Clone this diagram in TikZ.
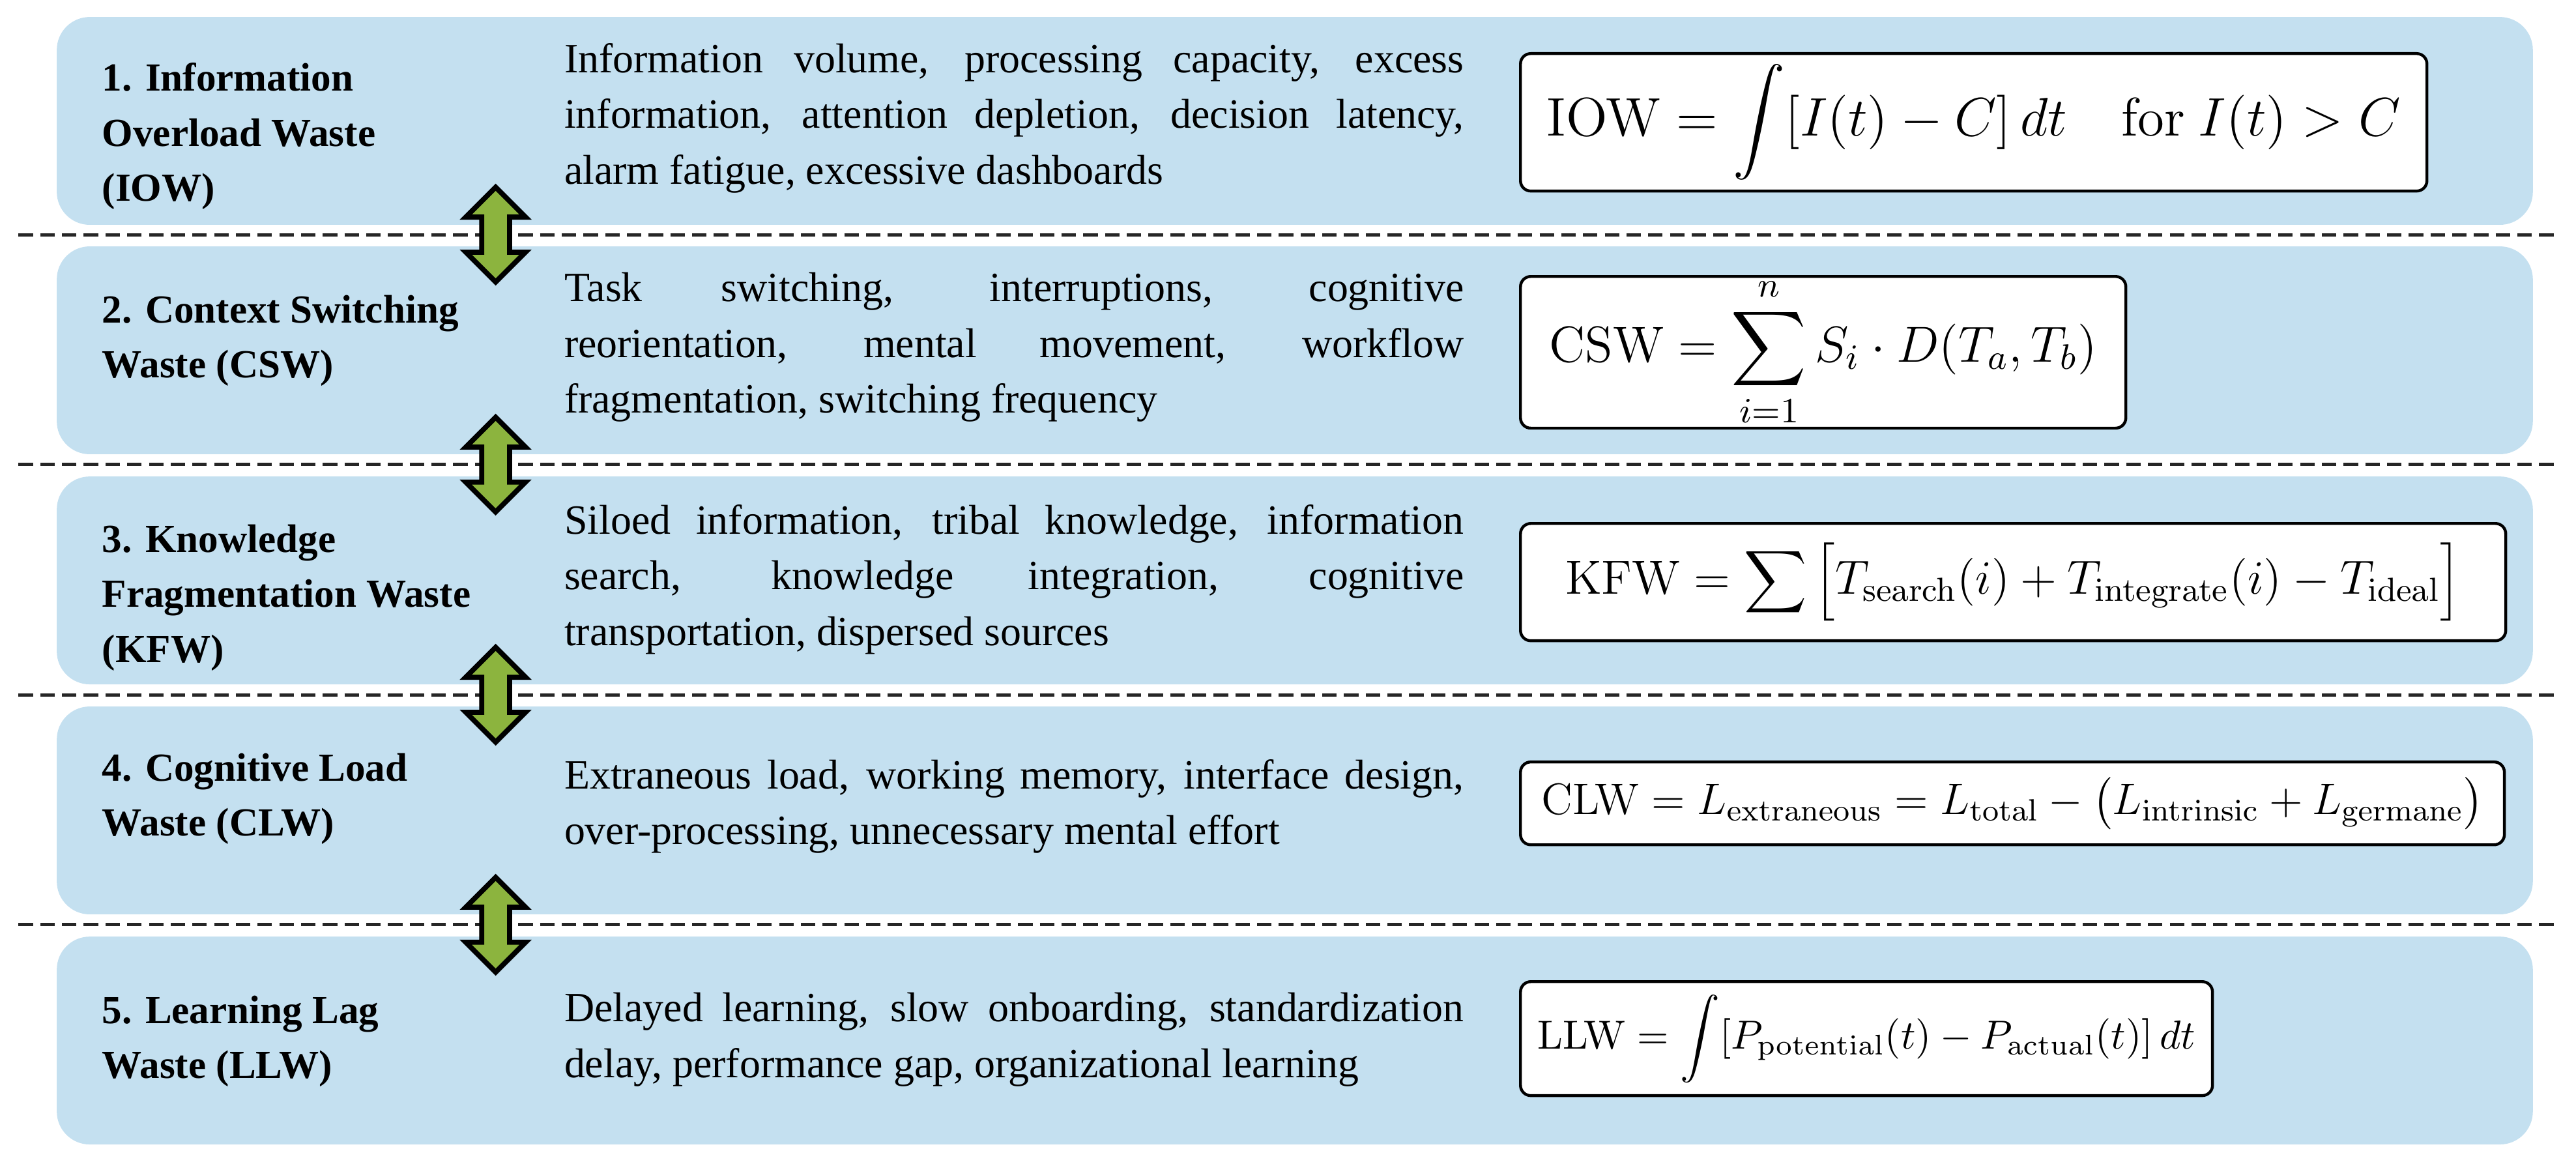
\documentclass[tikz,border=0pt]{standalone}
\usepackage{fix-cm}
\usepackage{amsmath}
\usepackage[no-math]{fontspec}
\setmainfont{Liberation Serif}
\usepackage{tikz}

\definecolor{rowblue}{RGB}{196,224,240}
\definecolor{arrowgreen}{RGB}{140,180,62}

\tikzset{
  rowbox/.style={fill=rowblue, rounded corners=0.32cm, anchor=north west,
    minimum width=24.03cm, minimum height=2.017cm, inner sep=0pt},
  rowsep/.style={dash pattern=on 4pt off 2pt, line width=0.9pt, black!85},
  rowtitle/.style={anchor=west, align=left, inner sep=0pt,
    font=\fontsize{11}{15.2}\selectfont\bfseries},
  rowtext/.style={anchor=west, text width=8.73cm, align=justify, inner sep=0pt,
    font=\fontsize{11.5}{15.4}\selectfont},
  formbox/.style={draw=black, fill=white, rounded corners=0.1cm, line width=0.8pt,
    anchor=north west, inner sep=0pt},
  updown/.style={draw=black, fill=arrowgreen, line width=1.4pt, line join=miter}
}

\begin{document}
\begin{tikzpicture}
  \useasboundingbox (0,0) rectangle (25,-11.276);
  % rows
  \foreach \y [count=\i] in {0.158,2.384,4.617,6.849,9.082}
    \node[rowbox] (row\i) at (0.544,-\y) {};
  % separators and arrows
  \foreach \y [count=\i] in {2.277,4.509,6.742,8.974} {
    \draw[rowsep] (0.18,-\y) -- (24.84,-\y);
    \coordinate (arr\i) at (4.81,-\y);
    \draw[updown] ([yshift=0.46cm]arr\i) -- ++(-0.29,-0.29) -- ++(0.155,0) -- ++(0,-0.34)
      -- ++(-0.155,0) -- ++(0.29,-0.29) -- ++(0.29,0.29) -- ++(-0.155,0) -- ++(0,0.34)
      -- ++(0.155,0) -- cycle;
  }
  % titles
  \node[rowtitle] (t1) at (0.985,-1.322) {1. Information\\Overload Waste\\(IOW)};
  \node[rowtitle] (t2) at (0.985,-3.308) {2. Context Switching\\Waste (CSW)};
  \node[rowtitle] (t3) at (0.985,-5.799) {3. Knowledge\\Fragmentation Waste\\(KFW)};
  \node[rowtitle] (t4) at (0.985,-7.754) {4. Cognitive Load\\Waste (CLW)};
  \node[rowtitle] (t5) at (0.985,-10.106) {5. Learning Lag\\Waste (LLW)};
  % descriptions
  \node[rowtext] (d1) at (5.47,-1.145) {Information volume, processing capacity, excess\linebreak information, attention depletion, decision latency,\linebreak alarm fatigue, excessive dashboards};
  \node[rowtext] (d2) at (5.47,-3.371) {Task switching, interruptions, cognitive\linebreak reorientation, mental movement, workflow\linebreak fragmentation, switching frequency};
  \node[rowtext] (d3) at (5.47,-5.622) {Siloed information, tribal knowledge, information\linebreak search, knowledge integration, cognitive\linebreak transportation, dispersed sources};
  \node[rowtext] (d4) at (5.47,-7.826) {Extraneous load, working memory, interface design,\linebreak over-processing, unnecessary mental effort};
  \node[rowtext] (d5) at (5.47,-10.090) {Delayed learning, slow onboarding, standardization\linebreak delay, performance gap, organizational learning};
  % formulas
  \node[formbox, minimum width=8.797cm, minimum height=1.334cm, font=\fontsize{15}{18}\selectfont] (f1) at (14.742,-0.506)
    {$\displaystyle \mathrm{IOW} = \int [I(t) - C]\, dt \quad \mathrm{for}\ I(t) > C$};
  \node[formbox, minimum width=5.875cm, minimum height=1.467cm, font=\fontsize{14}{17}\selectfont] (f2) at (14.742,-2.669)
    {$\displaystyle \mathrm{CSW} = \sum_{i=1}^{n} S_i \cdot D(T_a, T_b)$};
  \node[formbox, minimum width=9.562cm, minimum height=1.138cm, font=\fontsize{13.2}{16}\selectfont] (f3) at (14.742,-5.066)
    {$\displaystyle \mathrm{KFW} = \sum \Big[T_{\mathrm{search}}(i) + T_{\mathrm{integrate}}(i) - T_{\mathrm{ideal}}\Big]$};
  \node[formbox, minimum width=9.549cm, minimum height=0.804cm, font=\fontsize{12.15}{14}\selectfont] (f4) at (14.742,-7.380)
    {$\mathrm{CLW} = L_{\mathrm{extraneous}} = L_{\mathrm{total}} - \big(L_{\mathrm{intrinsic}} + L_{\mathrm{germane}}\big)$};
  \node[formbox, minimum width=6.716cm, minimum height=1.106cm, font=\fontsize{11.2}{13}\selectfont] (f5) at (14.742,-9.512)
    {$\displaystyle \mathrm{LLW} = \int [P_{\mathrm{potential}}(t) - P_{\mathrm{actual}}(t)]\, dt$};
\end{tikzpicture}
\end{document}
